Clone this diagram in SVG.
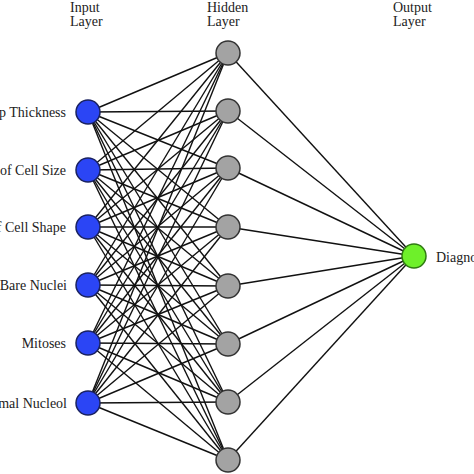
<svg xmlns="http://www.w3.org/2000/svg" width="474" height="474" viewBox="0 0 474 474">
<style>
text{font-family:"Liberation Serif","DejaVu Serif","Times New Roman",serif;font-size:14px;fill:#222}
.lbl{text-anchor:end}
.c line{stroke:#111;stroke-width:1.4}
.in{fill:#2b45f5;stroke:#1a2260;stroke-width:1.5}
.hd{fill:#a3a3a3;stroke:#333;stroke-width:1.5}
.out{fill:#6ef02a;stroke:#2f7a12;stroke-width:1.5}
</style>
<rect width="474" height="474" fill="#fff"/>
<g id="headers">
<text x="70" y="12">Input</text><text x="70" y="26">Layer</text>
<text x="207" y="12">Hidden</text><text x="207" y="26">Layer</text>
<text x="393" y="12">Output</text><text x="393" y="26">Layer</text>
</g>
<g class="c" id="connectors">
<line x1="88" y1="112" x2="228" y2="53"/><line x1="88" y1="112" x2="228" y2="111"/><line x1="88" y1="112" x2="228" y2="168"/><line x1="88" y1="112" x2="228" y2="227"/><line x1="88" y1="112" x2="228" y2="286"/><line x1="88" y1="112" x2="228" y2="344"/><line x1="88" y1="112" x2="228" y2="402"/><line x1="88" y1="112" x2="228" y2="460"/>
<line x1="88" y1="170" x2="228" y2="53"/><line x1="88" y1="170" x2="228" y2="111"/><line x1="88" y1="170" x2="228" y2="168"/><line x1="88" y1="170" x2="228" y2="227"/><line x1="88" y1="170" x2="228" y2="286"/><line x1="88" y1="170" x2="228" y2="344"/><line x1="88" y1="170" x2="228" y2="402"/><line x1="88" y1="170" x2="228" y2="460"/>
<line x1="88" y1="227" x2="228" y2="53"/><line x1="88" y1="227" x2="228" y2="111"/><line x1="88" y1="227" x2="228" y2="168"/><line x1="88" y1="227" x2="228" y2="227"/><line x1="88" y1="227" x2="228" y2="286"/><line x1="88" y1="227" x2="228" y2="344"/><line x1="88" y1="227" x2="228" y2="402"/><line x1="88" y1="227" x2="228" y2="460"/>
<line x1="88" y1="285" x2="228" y2="53"/><line x1="88" y1="285" x2="228" y2="111"/><line x1="88" y1="285" x2="228" y2="168"/><line x1="88" y1="285" x2="228" y2="227"/><line x1="88" y1="285" x2="228" y2="286"/><line x1="88" y1="285" x2="228" y2="344"/><line x1="88" y1="285" x2="228" y2="402"/><line x1="88" y1="285" x2="228" y2="460"/>
<line x1="88" y1="343" x2="228" y2="53"/><line x1="88" y1="343" x2="228" y2="111"/><line x1="88" y1="343" x2="228" y2="168"/><line x1="88" y1="343" x2="228" y2="227"/><line x1="88" y1="343" x2="228" y2="286"/><line x1="88" y1="343" x2="228" y2="344"/><line x1="88" y1="343" x2="228" y2="402"/><line x1="88" y1="343" x2="228" y2="460"/>
<line x1="88" y1="403" x2="228" y2="53"/><line x1="88" y1="403" x2="228" y2="111"/><line x1="88" y1="403" x2="228" y2="168"/><line x1="88" y1="403" x2="228" y2="227"/><line x1="88" y1="403" x2="228" y2="286"/><line x1="88" y1="403" x2="228" y2="344"/><line x1="88" y1="403" x2="228" y2="402"/><line x1="88" y1="403" x2="228" y2="460"/>
<line x1="228" y1="53" x2="414" y2="256"/><line x1="228" y1="111" x2="414" y2="256"/><line x1="228" y1="168" x2="414" y2="256"/><line x1="228" y1="227" x2="414" y2="256"/><line x1="228" y1="286" x2="414" y2="256"/><line x1="228" y1="344" x2="414" y2="256"/><line x1="228" y1="402" x2="414" y2="256"/><line x1="228" y1="460" x2="414" y2="256"/>
</g>
<g id="in1"><circle class="in" cx="88" cy="112" r="12"/><text class="lbl" x="66" y="117">Clump Thickness</text></g>
<g id="in2"><circle class="in" cx="88" cy="170" r="12"/><text class="lbl" x="66" y="175">Uniformity of Cell Size</text></g>
<g id="in3"><circle class="in" cx="88" cy="227" r="12"/><text class="lbl" x="66" y="232">Uniformity of Cell Shape</text></g>
<g id="in4"><circle class="in" cx="88" cy="285" r="12"/><text class="lbl" x="67" y="290">Bare Nuclei</text></g>
<g id="in5"><circle class="in" cx="88" cy="343" r="12"/><text class="lbl" x="66" y="348">Mitoses</text></g>
<g id="in6"><circle class="in" cx="88" cy="403" r="12"/><text class="lbl" x="67" y="408">Normal Nucleol</text></g>
<g id="h1"><circle class="hd" cx="228" cy="53" r="12"/></g>
<g id="h2"><circle class="hd" cx="228" cy="111" r="12"/></g>
<g id="h3"><circle class="hd" cx="228" cy="168" r="12"/></g>
<g id="h4"><circle class="hd" cx="228" cy="227" r="12"/></g>
<g id="h5"><circle class="hd" cx="228" cy="286" r="12"/></g>
<g id="h6"><circle class="hd" cx="228" cy="344" r="12"/></g>
<g id="h7"><circle class="hd" cx="228" cy="402" r="12"/></g>
<g id="h8"><circle class="hd" cx="228" cy="460" r="12"/></g>
<g id="out"><circle class="out" cx="414" cy="256" r="12"/><text x="436" y="262">Diagnosis</text></g>
</svg>
